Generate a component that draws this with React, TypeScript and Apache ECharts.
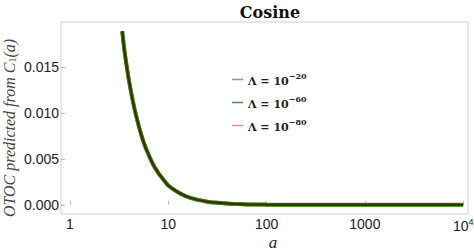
import React, { useEffect, useRef } from "react";
import * as echarts from "echarts";

const aValues = [3.4, 3.6, 3.8, 4, 4.5, 5, 5.5, 6, 7, 8, 9, 10, 12, 15, 20, 25, 30, 40, 50, 70, 100, 200, 500, 1000, 2000, 5000, 10000];
const otocValues = [0.0189, 0.0166, 0.0149, 0.0134, 0.0106, 0.0086, 0.0071, 0.006, 0.0044, 0.0034, 0.0027, 0.0021, 0.0015, 0.00095, 0.00054, 0.00034, 0.00024, 0.00013, 0.00009, 0.00004, 0.00002, 0.000005, 0.000001, 0, 0, 0, 0];
const seriesNames = ["L20", "L60", "L80"];
const seriesExps = ["−20", "−60", "−80"];
const legendColors = ["#8c8ad6", "#3f9a3a", "#d896a4"];
const xTicks = [1, 10, 100, 1000, 10000];
const yTicks = [0, 0.005, 0.01, 0.015];

export default function App() {
  const ref = useRef<HTMLDivElement>(null);
  useEffect(() => {
    const chart = echarts.init(ref.current!, null, { renderer: "svg" });
    const data = aValues.map((a, i) => [a, otocValues[i]]);
    const lineColors = ["#4f8f22", "#3c7a14", "#3a2c06"];
    const lineWidths = [4, 3.6, 2];
    chart.setOption({
      animation: false,
      backgroundColor: "#ffffff",
      title: {
        text: "Cosine",
        left: 265,
        textAlign: "center",
        top: -1,
        textStyle: { fontFamily: "DejaVu Serif", fontWeight: "bold", fontSize: 16, color: "#111" },
      },
      graphic: [
        {
          type: "text",
          x: 9,
          y: 128,
          rotation: Math.PI / 2,
          style: {
            text: "{i|OTOC predicted from C}{sub|1}{i|(a)}",
            align: "center",
            verticalAlign: "middle",
            rich: {
              i: { fontFamily: "Liberation Serif", fontStyle: "italic", fontSize: 16, fill: "#444" },
              sub: { fontFamily: "Liberation Serif", fontSize: 10, fill: "#444", padding: [6, 0, 0, 0] },
            },
          },
        },
        {
          type: "text",
          x: 273,
          y: 242,
          style: {
            text: "a",
            align: "center",
            verticalAlign: "middle",
            font: "italic 17px 'Liberation Serif'",
            fill: "#222",
          },
        },
      ],
      grid: { left: 61, right: 6, top: 22, bottom: 38, show: true, borderColor: "#cfcfcf", borderWidth: 1, outerBoundsMode: "none", containLabel: false },
      legend: {
        orient: "vertical",
        left: 227,
        top: 67,
        itemWidth: 11,
        itemHeight: 1.5,
        itemGap: 8,
        icon: "rect",
        data: seriesNames.map((n, i) => ({ name: n, itemStyle: { color: legendColors[i] } })),
        formatter: (name: string) => {
          const i = seriesNames.indexOf(name);
          return "{m|Λ = 10}{s|" + seriesExps[i] + "}";
        },
        textStyle: {
          rich: {
            m: { fontFamily: "DejaVu Serif", fontWeight: "bold", fontSize: 11, color: "#222", verticalAlign: "bottom" },
            s: { fontFamily: "DejaVu Serif", fontWeight: "bold", fontSize: 8, color: "#222", padding: [0, 0, 7, 0] },
          },
        },
      },
      xAxis: [
        {
          type: "log",
          logBase: 10,
          min: 0.81,
          max: 11200,
          axisLine: { show: false },
          splitLine: { show: false },
          axisTick: { show: true, inside: true, length: 4, lineStyle: { color: "#bbb" }, customValues: xTicks },
          axisLabel: {
            customValues: xTicks,
            margin: 3,
            fontFamily: "Liberation Sans",
            fontSize: 14,
            color: "#222",
            formatter: (v: number) => (v >= 10000 ? "10{sup|4}" : String(Math.round(v))),
            rich: { sup: { fontSize: 9, fontFamily: "Liberation Sans", color: "#222", padding: [0, 0, 8, 0] } },
          },
        },
      ],
      yAxis: [
        {
          type: "value",
          min: -0.001,
          max: 0.0199,
          axisLine: { show: false },
          splitLine: { show: false },
          axisTick: { show: true, inside: true, length: 4, lineStyle: { color: "#bbb" }, customValues: yTicks },
          axisLabel: {
            customValues: yTicks,
            margin: 2,
            fontFamily: "Liberation Sans",
            fontSize: 14,
            color: "#222",
            formatter: (v: number) => v.toFixed(3),
          },
        },
      ],
      series: seriesNames.map((n, i) => ({
        name: n,
        type: "line",
        data,
        smooth: 0.4,
        showSymbol: false,
        color: legendColors[i],
        lineStyle: { color: lineColors[i], width: lineWidths[i] },
      })),
    });
    return () => chart.dispose();
  }, []);
  return <div ref={ref} style={{ width: 474, height: 252, position: "absolute", left: 0, top: 0 }} />;
}
